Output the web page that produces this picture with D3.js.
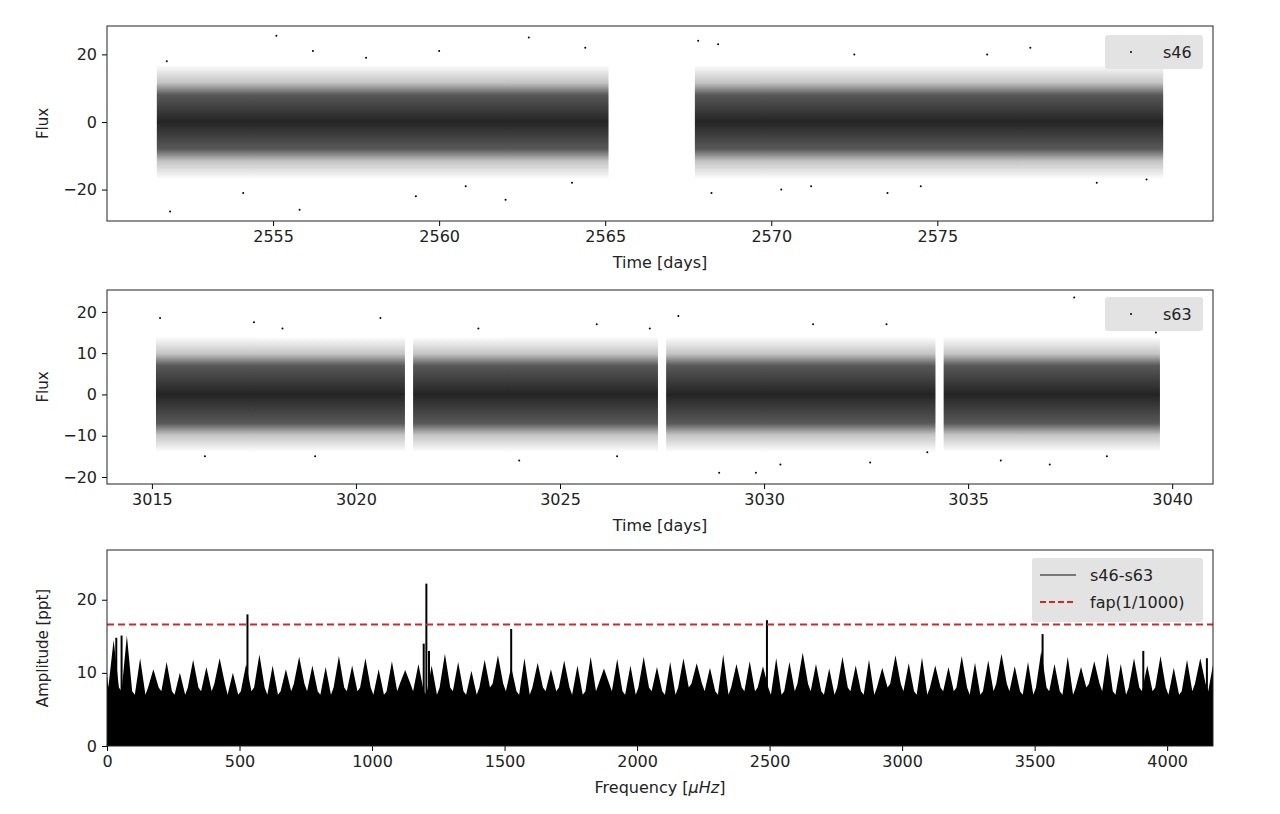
<!DOCTYPE html>
<html><head><meta charset="utf-8">
<script src="https://cdn.jsdelivr.net/npm/d3@7"></script>
<style>body{margin:0;background:#fff}text{font-family:"DejaVu Sans",sans-serif}</style>
</head><body><svg id="c" width="1280" height="814"></svg>
<script>
// ---- data ----
// light-curve segments: [start, end] in days
const s46Segments = [[2551.5, 2565.1], [2567.7, 2581.8]];
const s63Segments = [[3015.1, 3021.2], [3021.4, 3027.4], [3027.6, 3034.2], [3034.4, 3039.7]];
// dense core half-width and sparse outer half-width (flux) per segment
const s46Core = [8, 8], s46Outer = [17, 17];
const s63Core = [7, 7, 7, 7], s63Outer = [14, 14, 14, 14];
// outlier points [time, flux]
const s46Outliers = [[2551.9,-26.5],[2555.1,25.5],[2555.8,-26],[2556.2,21],[2559.3,-22],[2560.0,21],[2562.0,-23],[2562.7,25],[2564.4,22],[2551.8,18],[2554.1,-21],[2557.8,19],[2560.8,-19],[2564.0,-18],[2567.8,24],[2568.4,23],[2568.2,-21],[2570.3,-20],[2571.2,-19],[2573.5,-21],[2574.5,-19],[2576.5,20],[2577.8,22],[2579.8,-18],[2572.5,20],[2581.3,-17]];
const s63Outliers = [[3015.2,18.5],[3016.3,-15],[3017.5,17.5],[3019.0,-15],[3020.6,18.5],[3023.0,16],[3025.9,17],[3027.2,16],[3027.9,19],[3028.9,-19],[3029.8,-19],[3031.2,17],[3032.6,-16.5],[3033.0,17],[3034.0,-14],[3035.8,-16],[3037.6,23.5],[3037.0,-17],[3038.4,-15],[3039.6,15],[3018.2,16],[3024.0,-16],[3026.4,-15],[3030.4,-17]];
// ticks
const s46Ticks = [2555, 2560, 2565, 2570, 2575];
const s63Ticks = [3015, 3020, 3025, 3030, 3035, 3040];
const fluxTicks1 = [-20, 0, 20];
const fluxTicks2 = [-20, -10, 0, 10, 20];
const freqTicks = [0,500,1000,1500,2000,2500,3000,3500,4000];
const ampTicks = [0, 10, 20];
// periodogram: noise envelope (max amplitude per 50 uHz bin, 0..4150)
const envelope = [14.5,15.1,12,10.5,11.5,10,11.8,10.8,12,10,11.2,12.5,11,10.5,12.2,11,10.8,12.3,11,12,10.5,11.6,10.4,11.2,11,12.6,11.5,10.3,11.8,12.4,10.8,12,11.4,10.5,11.7,11,12.2,10.6,11.9,11,12.2,10.8,11.5,12,11.3,10.7,12.5,11.2,11.6,10.9,12,11.5,12.8,11.2,10.6,12.2,11,11.8,10.7,12.4,11.3,12.1,11,10.8,12.3,11.4,11.7,12.6,10.9,11.5,13,11.2,12.2,10.8,11.6,12.7,11.2,12,11,12.3,10.7,11.8,12,11.5];
const floorLevel = [8,7.5,7,8,7.5,7,8,7.5,8.5,7,7.5,8,7,7.5,8.5,7.5,7,8,7.5,8,7,7.5,8.5,7.5,7,8,7.5,7,8,8.5,7.5,7,8,7.5,8,7,7.5,8.5,7.5,7,8,7.5,7,8,8.5,7.5,7,8,7.5,8,7,7.5,8.5,7.5,7,8,7.5,7,8,8.5,7.5,7,8,7.5,8,7,7.5,8.5,7.5,7,8,7.5,7,8,8.5,7.5,7,8,7.5,8,7,7.5,8.5,7.5];
const peaks = [[35,14.8],[55,15.1],[530,18],[1205,22.2],[1525,16],[2490,17.2],[3530,15.3],[1195,14],[1215,13],[3910,13],[4150,12]];
const fap = 16.6;

// ---- drawing ----
const svg = d3.select("#c");
const defs = svg.append("defs");
function grad(id, coreFrac) {
  const g = defs.append("linearGradient").attr("id", id).attr("x1",0).attr("y1",0).attr("x2",0).attr("y2",1);
  const c = (1 - coreFrac) / 2;
  [[0,0],[c*0.6,0.25],[c,0.7],[0.5,0.92],[1-c,0.7],[1-c*0.6,0.25],[1,0]].forEach(s =>
    g.append("stop").attr("offset", s[0]).attr("stop-color", "#111").attr("stop-opacity", s[1]));
}
defs.append("clipPath").attr("id","clip3").append("rect").attr("x",107).attr("y",540).attr("width",1106).attr("height",206);

function panel(top, h, xd, yd, xticks, yticks, xlabel, ylabel) {
  const x = d3.scaleLinear().domain(xd).range([107, 1213]);
  const y = d3.scaleLinear().domain(yd).range([top + h, top]);
  const g = svg.append("g");
  const ax = svg.append("g");
  ax.append("g").attr("transform", `translate(0,${top+h})`)
    .call(d3.axisBottom(x).tickValues(xticks).tickSize(5).tickPadding(5).tickFormat(d3.format("d")))
    .call(a => a.selectAll("text").attr("font-size", 16).attr("fill","#222"));
  ax.append("g").attr("transform", `translate(107,0)`)
    .call(d3.axisLeft(y).tickValues(yticks).tickSize(5).tickPadding(5).tickFormat(d => d < 0 ? "\u2212" + (-d) : d))
    .call(a => a.selectAll("text").attr("font-size", 16).attr("fill","#222"));
  ax.selectAll(".domain").remove();
  ax.append("rect").attr("x",107).attr("y",top).attr("width",1106).attr("height",h)
    .attr("fill","none").attr("stroke","#222").attr("stroke-width",1);
  ax.append("text").attr("x",660).attr("y",top+h+47).attr("text-anchor","middle").attr("font-size",16).attr("fill","#222").html(xlabel);
  ax.append("text").attr("transform",`translate(48,${top+h/2}) rotate(-90)`).attr("text-anchor","middle").attr("font-size",15).attr("fill","#222").text(ylabel);
  return {x, y, g};
}
function lightCurve(p, id, segs, core, outer, outl) {
  grad(id, core[0] / outer[0]);
  segs.forEach((s, i) => {
    p.g.append("rect").attr("x", p.x(s[0])).attr("width", p.x(s[1]) - p.x(s[0]))
      .attr("y", p.y(outer[i])).attr("height", p.y(-outer[i]) - p.y(outer[i]))
      .attr("fill", `url(#${id})`);
  });
  p.g.selectAll(null).data(outl).join("circle").attr("cx", d => p.x(d[0])).attr("cy", d => p.y(d[1]))
    .attr("r", 1).attr("fill", "#000");
}
function legendDot(y0, label) {
  svg.append("rect").attr("x",1105).attr("y",y0).attr("width",98).attr("height",34).attr("rx",3).attr("fill","#e3e3e3");
  svg.append("circle").attr("cx",1131).attr("cy",y0+17).attr("r",1).attr("fill","#000");
  svg.append("text").attr("x",1163).attr("y",y0+23).attr("font-size",16).attr("fill","#222").text(label);
}

const p1 = panel(26, 195, [2550.0, 2583.3], [-29.3, 28.4], s46Ticks, fluxTicks1, "Time [days]", "Flux");
lightCurve(p1, "g1", s46Segments, s46Core, s46Outer, s46Outliers);
legendDot(35, "s46");

const p2 = panel(290, 194, [3013.9, 3041.0], [-21.7, 25.3], s63Ticks, fluxTicks2, "Time [days]", "Flux");
lightCurve(p2, "g2", s63Segments, s63Core, s63Outer, s63Outliers);
legendDot(297, "s63");

const p3 = panel(550, 196, [0, 4173], [0, 26.8], freqTicks, ampTicks, "Frequency [<tspan font-style='italic'>\u03bcHz</tspan>]", "Amplitude [ppt]");
const pts = [];
envelope.forEach((v, i) => { pts.push([i*50 + 5, floorLevel[i]]); pts.push([i*50 + 25, v]); pts.push([i*50 + 45, floorLevel[i]]); });
pts.push([4173, 8]);
const area = d3.area().x(d => p3.x(d[0])).y0(p3.y(0)).y1(d => p3.y(d[1]));
const pg = p3.g.append("g").attr("clip-path", "url(#clip3)");
pg.append("path").datum([[0, 0], [0, 10], ...pts, [4173, 0]]).attr("d", area).attr("fill", "#000");
pg.selectAll(null).data(peaks).join("line").attr("x1", d => p3.x(d[0])).attr("x2", d => p3.x(d[0]))
  .attr("y1", p3.y(0)).attr("y2", d => p3.y(d[1])).attr("stroke", "#000").attr("stroke-width", 2);
p3.g.append("line").attr("x1", 107).attr("x2", 1213).attr("y1", p3.y(fap)).attr("y2", p3.y(fap))
  .attr("stroke", "#d62728").attr("stroke-width", 2).attr("stroke-dasharray", "7,4");
svg.append("rect").attr("x",1032).attr("y",558).attr("width",171).attr("height",64).attr("rx",3).attr("fill","#e3e3e3");
svg.append("line").attr("x1",1040).attr("x2",1076).attr("y1",575).attr("y2",575).attr("stroke","#555").attr("stroke-width",1.5);
svg.append("text").attr("x",1090).attr("y",581).attr("font-size",16).attr("fill","#222").text("s46-s63");
svg.append("line").attr("x1",1040).attr("x2",1076).attr("y1",602).attr("y2",602).attr("stroke","#d62728").attr("stroke-width",2).attr("stroke-dasharray","6,3");
svg.append("text").attr("x",1090).attr("y",608).attr("font-size",16).attr("fill","#222").text("fap(1/1000)");
</script></body></html>
